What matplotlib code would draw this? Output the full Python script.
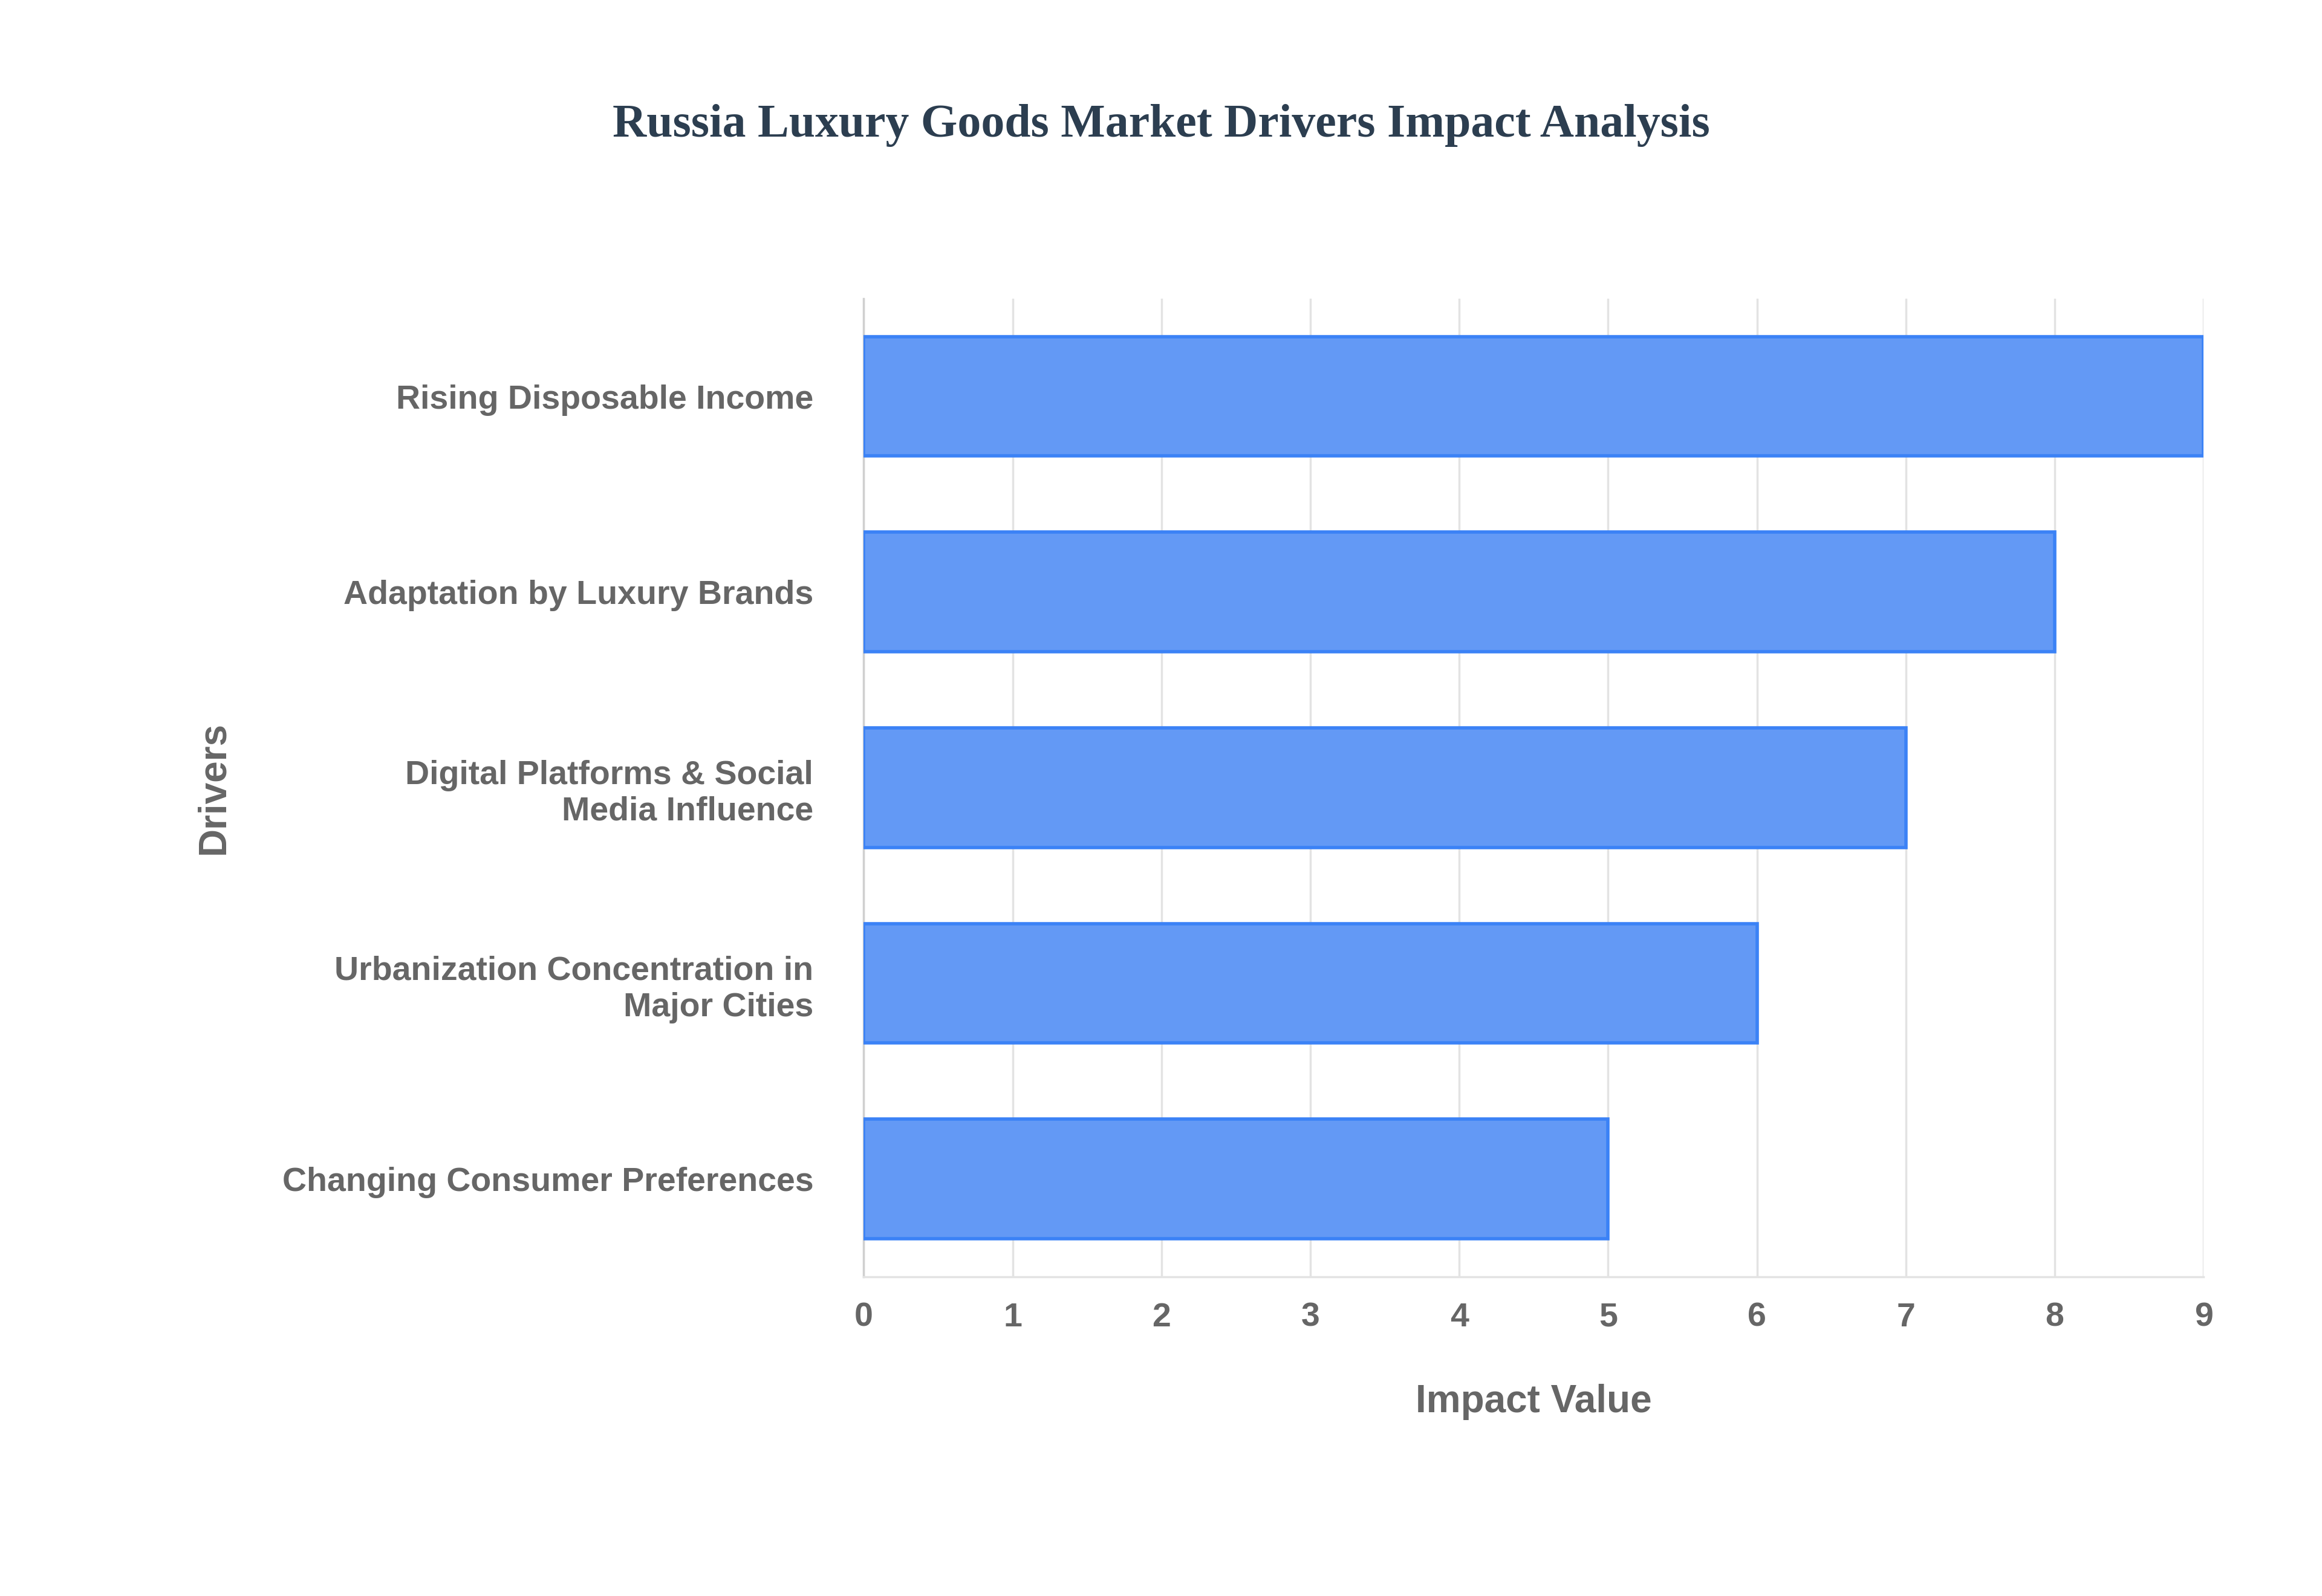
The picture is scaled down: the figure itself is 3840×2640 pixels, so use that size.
import matplotlib
matplotlib.use("Agg")
from matplotlib import pyplot as plt

drivers = ["Rising Disposable Income",
           "Adaptation by Luxury Brands",
           "Digital Platforms & Social\nMedia Influence",
           "Urbanization Concentration in\nMajor Cities",
           "Changing Consumer Preferences"]
impact = [9, 8, 7, 6, 5]

fig = plt.figure(figsize=(38.4, 26.4), dpi=100)
ax = fig.add_axes([0.372, 0.2, 0.577, 0.613])

ypos = list(range(len(drivers)))[::-1]
ax.barh(ypos, impact, height=0.61, color="#6399f5", edgecolor="#3b82f6", linewidth=4, zorder=3)

ax.set_xlim(0, 9)
ax.set_ylim(-0.5, 4.5)
ax.set_xticks(range(10))
ax.set_yticks(ypos)
ax.set_yticklabels(drivers)
ax.grid(axis="x", color="#e3e3e3", linewidth=2.5, zorder=0)
for s in ["top", "right"]:
    ax.spines[s].set_visible(False)
ax.spines["bottom"].set_color("#e3e3e3")
ax.spines["left"].set_color("#d0d0d0")
for s in ["bottom", "left"]:
    ax.spines[s].set_linewidth(2.5)
ax.tick_params(axis="both", length=0, pad=30, labelsize=40, labelcolor="#666666")
ax.tick_params(axis="y", pad=60)
for lab in ax.get_xticklabels() + ax.get_yticklabels():
    lab.set_fontfamily("Liberation Sans")
    lab.set_fontweight("bold")

ax.set_xlabel("Impact Value", fontsize=46, fontweight="bold", color="#666666",
              family="Liberation Sans", labelpad=60)
ax.set_ylabel("Drivers", fontsize=46, fontweight="bold", color="#666666",
              family="Liberation Sans", labelpad=60)

fig.suptitle("Russia Luxury Goods Market Drivers Impact Analysis", y=0.935,
             fontsize=56, fontweight="bold", color="#2c3e50", family="Liberation Serif")

fig.savefig("out.png", dpi=100, facecolor="white")
